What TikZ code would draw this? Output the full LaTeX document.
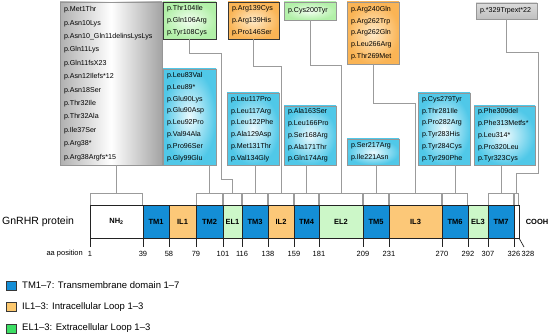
\documentclass[tikz,border=0pt]{standalone}
\usepackage{fontspec}
\setmainfont{Liberation Sans}
\definecolor{tmblue}{RGB}{20,142,214}
\definecolor{ilorange}{RGB}{252,200,120}
\definecolor{elgreen}{RGB}{204,247,200}
\definecolor{lggreen}{RGB}{60,222,100}
\definecolor{lgorange}{RGB}{252,200,110}
\definecolor{cyanout}{RGB}{80,200,232}
\definecolor{cyanin}{RGB}{235,250,254}
\definecolor{orout}{RGB}{250,180,85}
\definecolor{orin}{RGB}{254,234,200}
\definecolor{grout}{RGB}{178,240,168}
\definecolor{grin}{RGB}{242,254,240}
\definecolor{boxline}{RGB}{150,150,150}
\definecolor{connline}{RGB}{155,155,155}
\definecolor{bardark}{RGB}{35,35,35}
\definecolor{darkline}{RGB}{55,55,55}
\begin{document}
\begin{tikzpicture}[x=1pt,y=-1pt,
  conn/.style={draw=connline,line width=0.9pt},
  mbox/.style={anchor=north west,inner xsep=4pt,inner ysep=0pt,outer sep=0pt,
    align=left,draw=boxline,line width=0.8pt,
    font=\fontsize{7.1}{11.8}\selectfont},
  bluebox/.style={mbox,shading=radial,inner color=cyanin,outer color=cyanout},
  orbox/.style={mbox,shading=radial,inner color=orin,outer color=orout},
  grbox/.style={mbox,shading=radial,inner color=grin,outer color=grout},
  seg/.style={draw=bardark,line width=0.8pt,inner sep=0pt,outer sep=0pt,
    minimum height=32.5,anchor=north west,font=\bfseries\fontsize{7.5}{9}\selectfont},
  tick/.style={draw=bardark,line width=0.7pt},
  ticklabel/.style={font=\fontsize{7.5}{9}\selectfont,inner sep=0pt},
  lgsq/.style={draw=darkline,line width=0.6pt,minimum width=9.5,minimum height=9,inner sep=0pt,anchor=north west},
  lgtext/.style={anchor=west,inner sep=0pt,font=\fontsize{9.5}{11}\selectfont}
]
\useasboundingbox (0,0) rectangle (550,334);

% ---------- mutation boxes ----------
\node[mbox,minimum width=102,minimum height=163,text width=94,
  left color=gray!62,right color=gray!72,middle color=white,
  font=\fontsize{7.1}{13.4}\selectfont] (bxNH) at (60,2)
  {p.Met1Thr\\p.Asn10Lys\\p.Asn10\_Gln11delinsLysLys\\p.Gln11Lys\\p.Gln11fsX23\\p.Asn12Ilefs*12\\p.Asn18Ser\\p.Thr32Ile\\p.Thr32Ala\\p.Ile37Ser\\p.Arg38*\\p.Arg38Argfs*15};
\node[grbox,draw=darkline,minimum width=53,minimum height=37,text width=45] (bxEL1) at (163,2)
  {p.Thr104Ile\\p.Gln106Arg\\p.Tyr108Cys};
\node[bluebox,minimum width=53,minimum height=96,text width=45] (bxTM2) at (163,69)
  {p.Leu83Val\\p.Leu89*\\p.Glu90Lys\\p.Glu90Asp\\p.Leu92Pro\\p.Val94Ala\\p.Pro96Ser\\p.Gly99Glu};
\node[orbox,draw=darkline,minimum width=51,minimum height=37,text width=43] (bxIL2) at (228,2)
  {p.Arg139Cys\\p.Arg139His\\p.Pro146Ser};
\node[bluebox,minimum width=52,minimum height=72,text width=44] (bxTM3) at (227,93)
  {p.Leu117Pro\\p.Leu117Arg\\p.Leu122Phe\\p.Ala129Asp\\p.Met131Thr\\p.Val134Gly};
\node[grbox,minimum width=52,minimum height=18,text width=44] (bxEL2) at (284,2)
  {p.Cys200Tyr};
\node[bluebox,minimum width=52,minimum height=59,text width=44] (bxTM4) at (284,106)
  {p.Ala163Ser\\p.Leu166Pro\\p.Ser168Arg\\p.Ala171Thr\\p.Gln174Arg};
\node[orbox,minimum width=52,minimum height=62,text width=44] (bxIL3) at (347,2)
  {p.Arg240Gln\\p.Arg262Trp\\p.Arg262Gln\\p.Leu266Arg\\p.Thr269Met};
\node[bluebox,minimum width=52,minimum height=26,text width=44,font=\fontsize{7.1}{12.5}\selectfont] (bxTM5) at (347,139)
  {p.Ser217Arg\\p.Ile221Asn};
\node[bluebox,minimum width=52,minimum height=72,text width=44] (bxTM6) at (418,93)
  {p.Cys279Tyr\\p.Thr281Ile\\p.Pro282Arg\\p.Tyr283His\\p.Tyr284Cys\\p.Tyr290Phe};
\node[bluebox,minimum width=61,minimum height=59,text width=53] (bxTM7) at (474,106)
  {p.Phe309del\\p.Phe313Metfs*\\p.Leu314*\\p.Pro320Leu\\p.Tyr323Cys};
\node[mbox,minimum width=61,minimum height=16,text width=53,
  top color=gray!28,bottom color=gray!50] (bxC) at (476,3)
  {p.*329Trpext*22};

% ---------- protein bar ----------
\node[seg,fill=white,minimum width=53] (nh2) at (90,205.5) {NH\textsubscript{2}};
\node[seg,fill=tmblue,minimum width=26] (tm1) at (143,205.5) {TM1};
\node[seg,fill=ilorange,minimum width=27] (il1) at (169,205.5) {IL1};
\node[seg,fill=tmblue,minimum width=27] (tm2) at (196,205.5) {TM2};
\node[seg,fill=elgreen,minimum width=19] (el1) at (223,205.5) {EL1};
\node[seg,fill=tmblue,minimum width=26] (tm3) at (242,205.5) {TM3};
\node[seg,fill=ilorange,minimum width=26] (il2) at (268,205.5) {IL2};
\node[seg,fill=tmblue,minimum width=25] (tm4) at (294,205.5) {TM4};
\node[seg,fill=elgreen,minimum width=44] (el2) at (319,205.5) {EL2};
\node[seg,fill=tmblue,minimum width=26] (tm5) at (363,205.5) {TM5};
\node[seg,fill=ilorange,minimum width=53] (il3) at (389,205.5) {IL3};
\node[seg,fill=tmblue,minimum width=26] (tm6) at (442,205.5) {TM6};
\node[seg,fill=elgreen,minimum width=20] (el3) at (468,205.5) {EL3};
\node[seg,fill=tmblue,minimum width=26] (tm7) at (488,205.5) {TM7};
\node[seg,fill=white,minimum width=5] (cterm) at (514,205.5) {};

\node[anchor=west,inner sep=0pt,font=\fontsize{10.5}{12}\selectfont] (title) at (2,222) {GnRHR protein};
\node[inner sep=0pt,font=\bfseries\fontsize{7.5}{9}\selectfont] (cooh) at (537,222) {COOH};

% ---------- ticks ----------
\node[anchor=east,ticklabel] (aapos) at (83,254) {aa position};
\foreach \s/\l in {nh2/1,tm1/39,il1/58,tm2/79,el1/101,tm3/116,il2/138,tm4/159,
  el2/181,tm5/209,il3/231,tm6/270,el3/292,tm7/307,cterm/326}{
  \draw[tick] (\s.south west) -- ++(0,9);
  \node[ticklabel] (tl\l) at ([yshift=-16pt]\s.south west) {\l};
}
\draw[tick] (cterm.south east) -- ++(5,9);
\node[ticklabel] (tl328) at ([xshift=9pt,yshift=-16pt]cterm.south east) {328};

% ---------- brackets ----------
\foreach \n/\a/\b in {NH/90.5/142.5,TM2/196.8/222.2,EL1/223.8/241.2,TM3/242.8/267.2,
  IL2/268.8/293.2,TM4/294.8/318.2,EL2/319.8/362.2,TM5/363.8/388.2,IL3/389.8/441.2,
  TM6/442.8/467.2,TM7/488.8/513.2,C/514.8/518.6}{
  \draw[conn] (\a,205.5) |- (\b,193) -- (\b,205.5);
  \coordinate (br\n) at ({(\a+\b)/2},193);
}

% ---------- connectors ----------
\draw[conn] (brNH) -- (brNH |- bxNH.south);
\draw[conn] (brTM2) -- (brTM2 |- bxTM2.south);
\draw[conn] (brTM3) -- (brTM3 |- bxTM3.south);
\draw[conn] (brTM4) -- (brTM4 |- bxTM4.south);
\draw[conn] (brTM5) -- (brTM5 |- bxTM5.south);
\draw[conn] (brTM6) -- (brTM6 |- bxTM6.south);
\draw[conn] (brTM7) -- (brTM7 |- bxTM7.south);
\draw[conn] (bxEL1.south) |- (221,53) |- ([yshift=14pt]brEL1) -- (brEL1);
\draw[conn] (bxIL2.south) |- (brIL2 |- 0,66) -- (brIL2);
\draw[conn] (bxEL2.south) |- (brEL2 |- 0,65) -- (brEL2);
\draw[conn] (bxIL3.south) |- (brIL3 |- 0,103) -- (brIL3);
\draw[conn] (bxC.south) |- (538,52) |- ([yshift=20pt]brC) -- (brC);

% ---------- legend ----------
\node[lgsq,fill=tmblue] (lg1) at (6,281) {};
\node[lgtext] (lt1) at (22,285.5) {TM1–7: Transmembrane domain 1–7};
\node[lgsq,fill=lgorange] (lg2) at (6,302.5) {};
\node[lgtext] (lt2) at (22,307) {IL1–3: Intracellular Loop 1–3};
\node[lgsq,fill=lggreen] (lg3) at (6,324) {};
\node[lgtext] (lt3) at (22,328.5) {EL1–3: Extracellular Loop 1–3};
\end{tikzpicture}
\end{document}
